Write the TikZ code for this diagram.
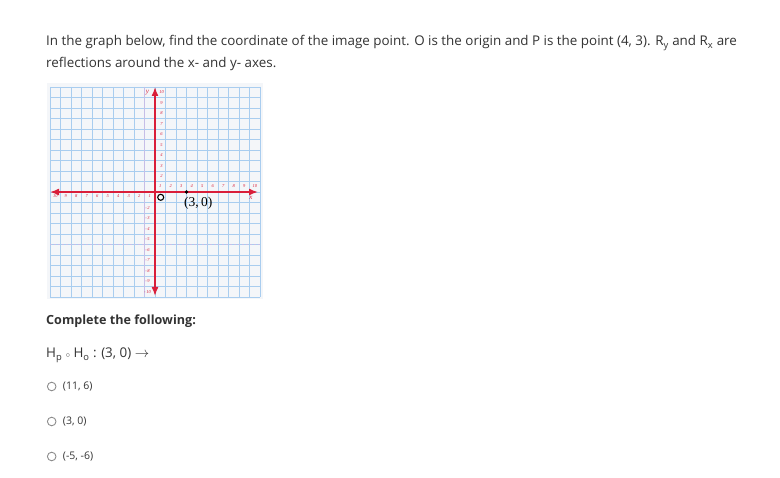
\documentclass[tikz,border=0pt]{standalone}
\usepackage{fontspec}
\setmainfont{Open Sans}
\newfontfamily\serifnum{Liberation Serif}
\usetikzlibrary{arrows.meta}
\definecolor{txt}{HTML}{333333}
\definecolor{gridblue}{HTML}{A9CDEF}
\definecolor{paper}{HTML}{F4F6F9}
\definecolor{axisred}{HTML}{D91E3A}
\definecolor{lav}{HTML}{C6BEE8}
\definecolor{radiogray}{HTML}{8C8C8C}
\tikzset{
  qtext/.style={anchor=base west, inner sep=0pt, text=txt, font=\fontsize{13.4}{15}\selectfont},
  opttext/.style={anchor=base west, inner sep=0pt, text=txt, font=\fontsize{10.5}{12}\selectfont},
  gridline/.style={draw=gridblue, line width=0.9pt},
  axisline/.style={draw=axisred, line width=1.5pt, {Latex[length=9pt,width=7pt]}-{Latex[length=9pt,width=7pt]}},
  ticklab/.style={inner sep=0pt, text=axisred, font=\serifnum\itshape\fontsize{4.5}{5}\selectfont},
  axlab/.style={inner sep=0pt, text=axisred, font=\serifnum\itshape\fontsize{7}{7}\selectfont},
  ptdot/.style={circle, fill=black, inner sep=0pt, minimum size=3.8pt},
  opendot/.style={circle, draw=black, fill=white, line width=1.1pt, inner sep=0pt, minimum size=6pt},
  radiobtn/.style={circle, draw=radiogray, fill=white, line width=0.9pt, inner sep=0pt, minimum size=8.6pt}
}
\begin{document}
\begin{tikzpicture}[x=1pt,y=-1pt]
\useasboundingbox (0,0) rectangle (780,478);
\fill[white] (0,0) rectangle (780,478);
% question
\node[qtext] (q1) at (46,46) {In the graph below, find the coordinate of the image point. O is the origin and P is the point (4, 3). R\textsubscript{y} and R\textsubscript{x} are};
\node[qtext] (q2) at (46,68) {reflections around the x- and y- axes.};
% graph paper
\fill[paper] (47,83) rectangle (263,299);
\foreach \i in {0,...,20} {
  \draw[gridline] ({50+10.5*\i},87) -- ({50+10.5*\i},297);
  \draw[gridline] (50,{87+10.5*\i}) -- (260,{87+10.5*\i});
}
\draw[lav, line width=0.9pt] (144.5,87) -- (144.5,297);
\draw[lav, line width=0.9pt, dash pattern=on 2pt off 2pt] (50,244.5) -- (260,244.5);
% axes
\coordinate (xl) at (50,192);
\coordinate (xr) at (258,192);
\coordinate (yt) at (155,87);
\coordinate (yb) at (155,296);
\draw[axisline] (xl) -- (xr);
\draw[axisline] (yt) -- (yb);
% tick labels
\foreach \k in {1,...,10} {
  \node[ticklab] (px\k) at ({155+10.5*\k-5.25},186.5) {\k};
  \node[ticklab] (nx\k) at ({155-10.5*\k+5.25},196.5) {\k};
}
\foreach \k in {2,...,10} {
  \node[ticklab] (py\k) at (161.5,{192-10.5*\k+5.25}) {\k};
  \node[ticklab] (ny\k) at (147.5,{192+10.5*\k-5.25}) {-\,\k};
}
\node[axlab] (xlab) at (251,197.5) {x};
\node[axlab] (ylab) at (147.5,93) {y};
% points
\node[ptdot] (P) at (186.5,192) {};
\node[opendot] (O) at (160.7,197.3) {};
\node[anchor=base west, inner sep=0pt, font=\serifnum\fontsize{13.5}{14}\selectfont] (lbl) at (184,207) {(3,\,0)};
% bottom part
\node[anchor=base west, inner sep=0pt, text=txt, font=\bfseries\fontsize{12.6}{15}\selectfont] (head) at (46,325) {Complete the following:};
\node[qtext] (expr) at (46,358) {H\textsubscript{p} {\footnotesize$\circ$} H\textsubscript{o} : (3, 0) $\rightarrow$};
\node[radiobtn] (r1) at (51.7,386.5) {};
\node[radiobtn] (r2) at (51.7,421.5) {};
\node[radiobtn] (r3) at (51.7,456.5) {};
\node[opttext] (o1) at (62.7,389.5) {(11, 6)};
\node[opttext] (o2) at (62.7,424.5) {(3, 0)};
\node[opttext] (o3) at (62.7,460) {(-5, -6)};
\end{tikzpicture}
\end{document}
